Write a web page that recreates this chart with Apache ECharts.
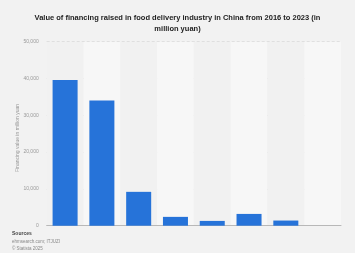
<!DOCTYPE html>
<html><head><meta charset="utf-8">
<script src="https://cdn.jsdelivr.net/npm/echarts@6/dist/echarts.min.js"></script>
<style>html,body{margin:0;padding:0;background:#f2f2f2;}#c{width:355px;height:253px;}</style>
</head><body><div id="c"></div>
<script>
const categories = ['2016','2017','2018','2019','2020','2021','2022','2023'];
const financingValues = [39600, 34000, 9200, 2400, 1300, 3200, 1400, 0];
const yTicks = [0, 10000, 20000, 30000, 40000, 50000];

const chart = echarts.init(document.getElementById('c'), null, {renderer:'canvas'});
chart.setOption({
  backgroundColor: '#f2f2f2',
  animation: false,
  title: {
    text: 'Value of financing raised in food delivery industry in China from 2016 to 2023 (in\nmillion yuan)',
    left: 'center', top: 7,
    textStyle: {fontFamily: 'Liberation Sans, Arial, sans-serif', fontSize: 7.5, fontWeight: 'bold', color: '#222', lineHeight: 11}
  },
  graphic: [
    {type:'text', x: 18, y: 138, rotation: Math.PI/2,
      style:{text:'Financing value in million yuan', font:'5px Liberation Sans, Arial, sans-serif', fill:'#999', align:'center', verticalAlign:'middle'}},
    {type:'text', left: 12, top: 231, style:{text:'Sources', font:'bold 5px Liberation Sans, Arial, sans-serif', fill:'#444'}},
    {type:'text', left: 12, top: 239, style:{text:'ehmsearch.com; ITJUZI', font:'4.5px Liberation Sans, Arial, sans-serif', fill:'#888'}},
    {type:'text', left: 12, top: 246, style:{text:'© Statista 2025', font:'4.5px Liberation Sans, Arial, sans-serif', fill:'#888'}}
  ],
  grid: {left: 46.7, right: 14, top: 41.7, bottom: 27.3, containLabel: false},
  xAxis: {
    type: 'category', data: categories,
    axisLine: {show: true, lineStyle: {color: '#b8b8b8', width: 1}},
    axisTick: {show: false}, axisLabel: {show: false},
    splitArea: {show: true, areaStyle: {color: ['#f1f1f1', '#f7f7f7']}}
  },
  yAxis: {
    type: 'value', min: 0, max: 50000, interval: 10000,
    axisLine: {show: false}, axisTick: {show: false},
    axisLabel: {fontSize: 5, color: '#999', margin: 8, fontFamily: 'Liberation Sans, Arial, sans-serif',
      formatter: v => yTicks.includes(v) ? v.toLocaleString('en-US') : ''},
    splitLine: {show: true, lineStyle: {color: '#d9d9d9', type: [3, 2], width: 1}}
  },
  series: [{
    type: 'bar', data: financingValues, barCategoryGap: '32%',
    itemStyle: {color: '#2673d9'}
  }]
});
</script></body></html>
